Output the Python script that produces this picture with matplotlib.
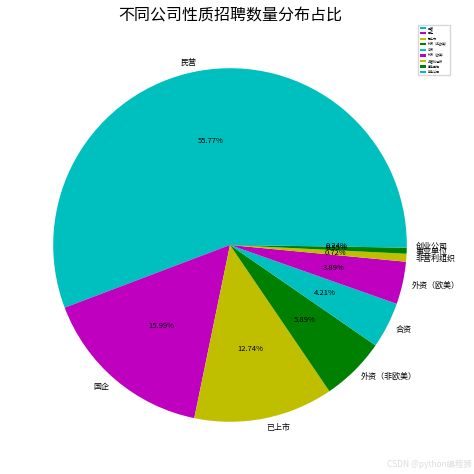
import matplotlib.pyplot as plt

plt.rcParams['font.family'] = ['Noto Sans CJK SC', 'DejaVu Sans']
plt.rcParams['axes.unicode_minus'] = False

# 公司性质及占比（%）
company_types = ['民营', '国企', '已上市', '外资（非欧美）', '合资', '外资（欧美）',
                 '非营利组织', '事业单位', '创业公司']
shares = [55.77, 15.99, 12.74, 5.89, 4.21, 3.89, 0.72, 0.55, 0.24]
colors = ['c', 'm', 'y', 'g']

fig = plt.figure(figsize=(4.74, 4.74), dpi=100)
ax = fig.add_axes([9 / 474, 8 / 474, 442 / 474, 442 / 474])

wedges, texts, autotexts = ax.pie(shares, labels=company_types, colors=colors,
                                  autopct='%.2f%%', labeldistance=1.05,
                                  textprops={'fontsize': 5.8})
for t in autotexts:
    t.set_fontsize(5.5)

ax.legend(wedges, company_types, loc='upper right', fontsize=2.2,
          borderaxespad=0.2, frameon=True)
fig.text(0.485, 0.968, '不同公司性质招聘数量分布占比', ha='center', va='center',
         fontsize=11.5)
fig.text(0.995, 0.02, 'CSDN @python编程狮', ha='right', va='center',
         fontsize=6, color='#dddddd')

fig.savefig('out.png', dpi=100)
